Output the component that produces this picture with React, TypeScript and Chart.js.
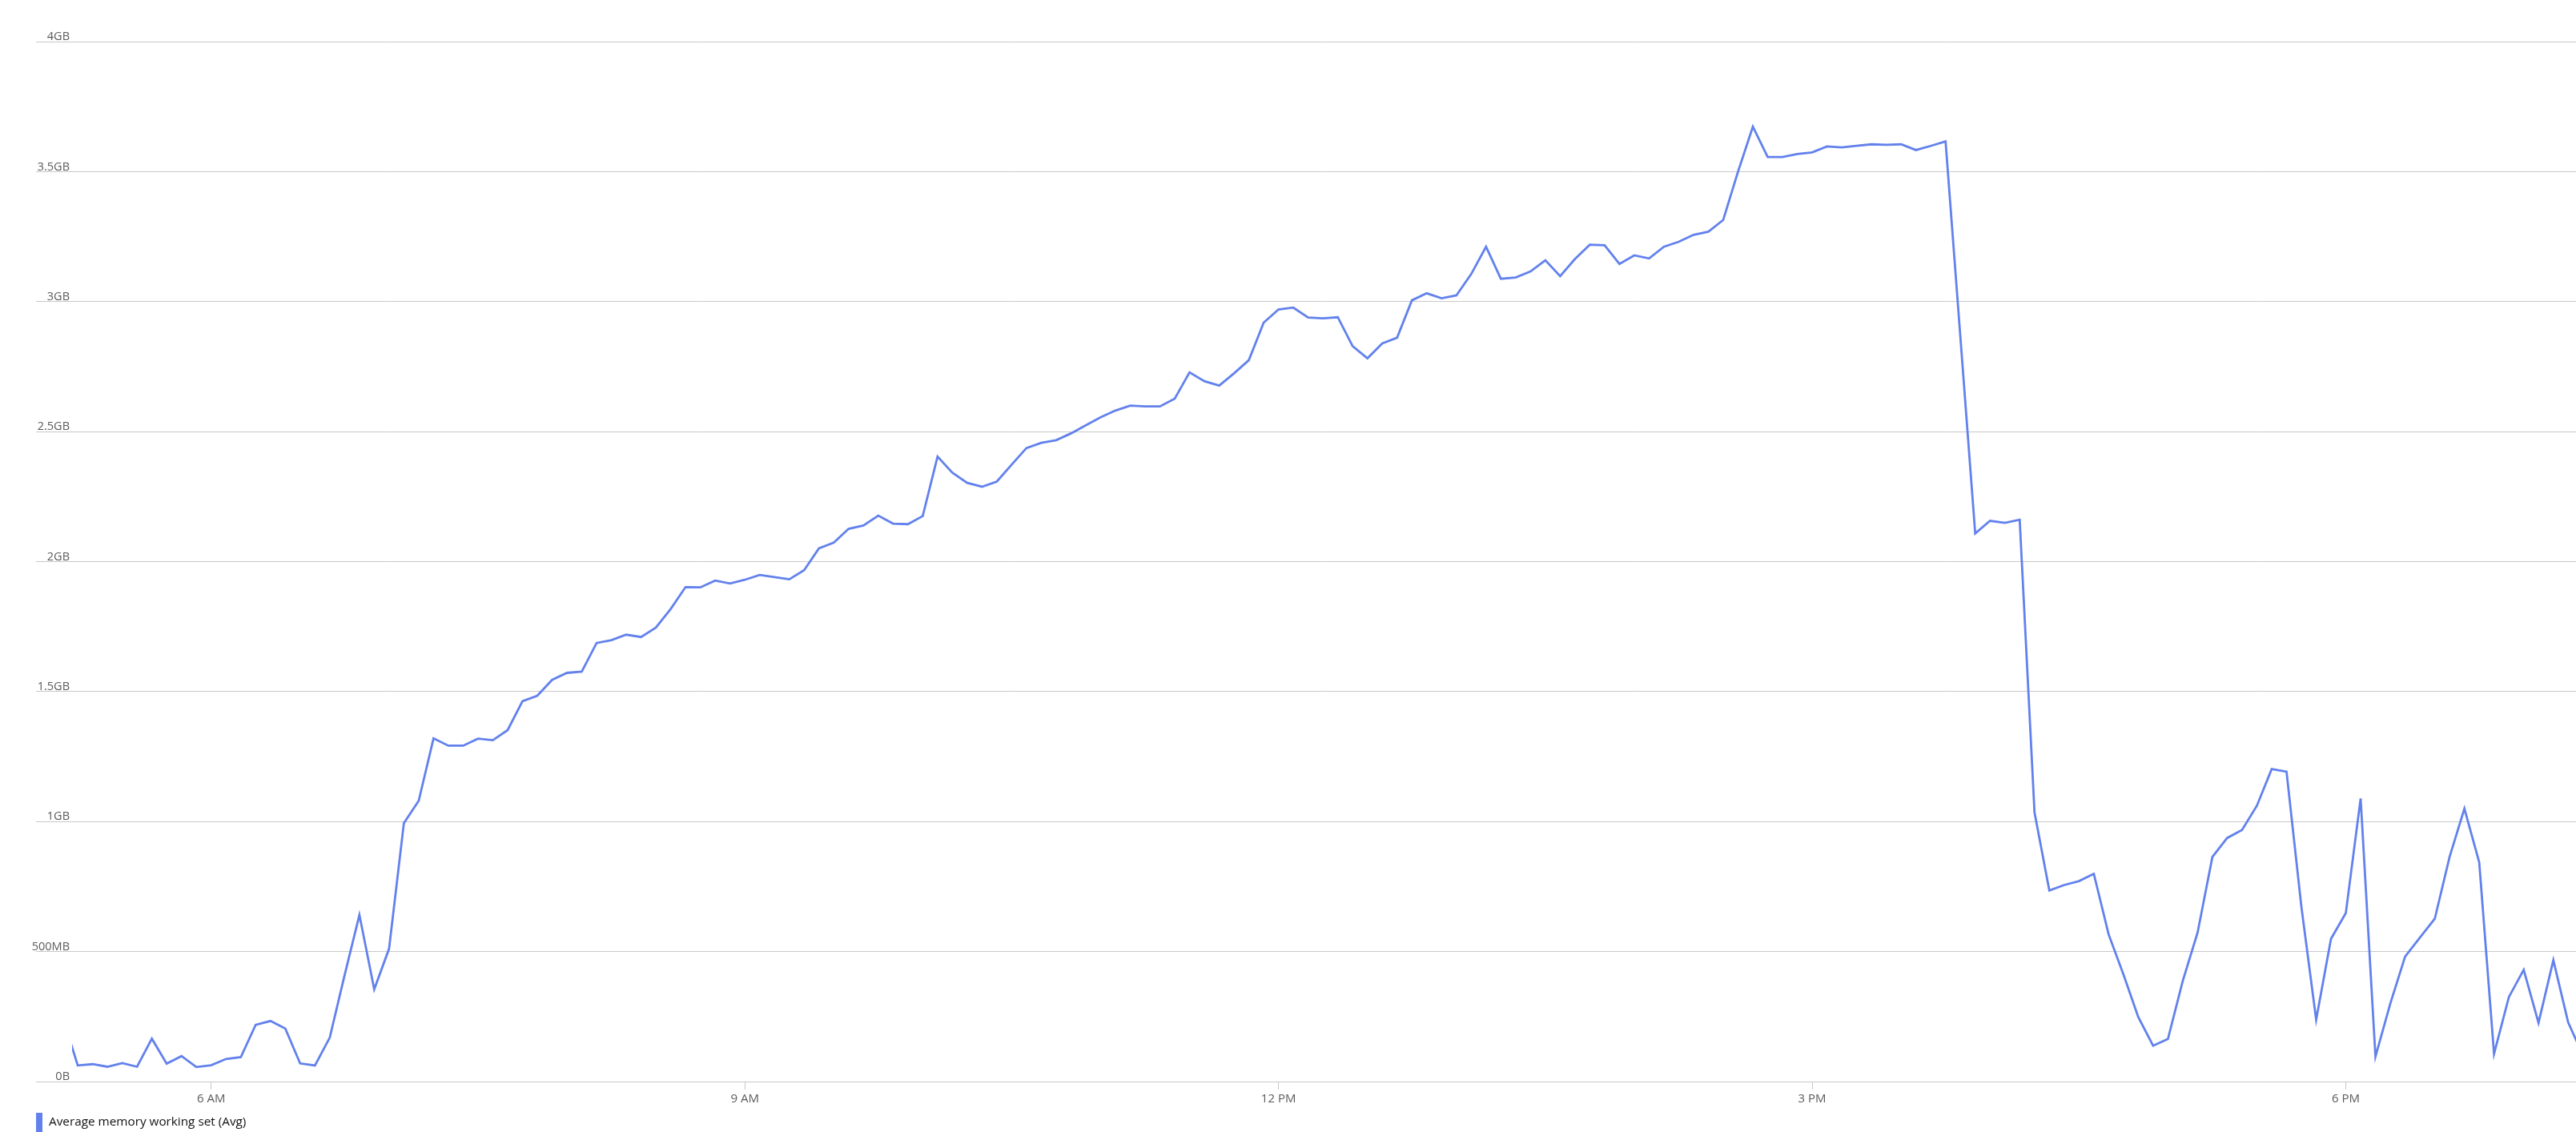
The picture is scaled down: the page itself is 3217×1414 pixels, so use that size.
import React, { useEffect, useRef } from "react";
import { Chart, registerables } from "chart.js";

Chart.register(...registerables);

// ---- data ----
const SERIES_LABEL = "Average memory working set (Avg)";
const START_TIME = "05:10"; // first sample (partly clipped at the left edge)
const STEP_MINUTES = 5;

// Average memory working set, in GB, one sample every 5 minutes from 05:10
const MEMORY_GB = [
  0.245, 0.062, 0.067, 0.057, 0.071, 0.057, 0.165, 0.069, 0.098, 0.056,
  0.063, 0.087, 0.094, 0.218, 0.233, 0.204, 0.070, 0.062, 0.169, 0.409,
  0.641, 0.355, 0.511, 0.994, 1.080, 1.320, 1.292, 1.292, 1.319, 1.313,
  1.352, 1.463, 1.484, 1.545, 1.572, 1.577, 1.687, 1.698, 1.719, 1.710,
  1.746, 1.818, 1.902, 1.901, 1.927, 1.916, 1.930, 1.949, 1.940, 1.932,
  1.967, 2.051, 2.073, 2.126, 2.139, 2.177, 2.146, 2.144, 2.175, 2.404,
  2.342, 2.303, 2.288, 2.308, 2.373, 2.437, 2.457, 2.467, 2.493, 2.524,
  2.555, 2.581, 2.600, 2.597, 2.597, 2.627, 2.728, 2.694, 2.677, 2.724,
  2.775, 2.919, 2.970, 2.977, 2.939, 2.936, 2.940, 2.829, 2.782, 2.839,
  2.861, 3.005, 3.032, 3.013, 3.024, 3.106, 3.211, 3.088, 3.093, 3.116,
  3.159, 3.098, 3.164, 3.219, 3.217, 3.145, 3.178, 3.166, 3.211, 3.230,
  3.257, 3.269, 3.314, 3.500, 3.673, 3.556, 3.556, 3.568, 3.574, 3.597,
  3.593, 3.599, 3.605, 3.603, 3.605, 3.583, 3.599, 3.616, 2.863, 2.108,
  2.157, 2.149, 2.161, 1.035, 0.735, 0.756, 0.771, 0.799, 0.566, 0.412,
  0.248, 0.138, 0.164, 0.387, 0.573, 0.864, 0.937, 0.968, 1.061, 1.202,
  1.192, 0.674, 0.238, 0.549, 0.648, 1.089, 0.096, 0.300, 0.481, 0.554,
  0.626, 0.864, 1.050, 0.843, 0.107, 0.325, 0.430, 0.226, 0.467, 0.228,
  0.100,
];

const X_TICK_HOURS = [6, 9, 12, 15, 18];
const X_TICK_LABELS = ["6 AM", "9 AM", "12 PM", "3 PM", "6 PM"];
const Y_TICK_VALUES = [0, 0.5, 1, 1.5, 2, 2.5, 3, 3.5, 4];
const Y_TICK_LABELS = ["0B", "500MB", "1GB", "1.5GB", "2GB", "2.5GB", "3GB", "3.5GB", "4GB"];

// visible time window, in hours of the day
const X_MIN_HOURS = 5.218;
const X_MAX_HOURS = 19.294;

// ---- styles ----
const WIDTH = 3217;
const HEIGHT = 1414;
const LINE_COLOR = "#6281ec";
const GRID_COLOR = "#c8c8c8";
const TEXT_COLOR = "#5a5a5a";
const FONT_FAMILY = "'Open Sans', 'Noto Sans', sans-serif";

function startHours(): number {
  const [h, m] = START_TIME.split(":").map(Number);
  return h + m / 60;
}

export default function App() {
  const canvasRef = useRef<HTMLCanvasElement | null>(null);

  useEffect(() => {
    const canvas = canvasRef.current;
    if (!canvas) return;
    const t0 = startHours();
    const points = MEMORY_GB.map((v, i) => ({ x: t0 + (i * STEP_MINUTES) / 60, y: v }));

    const chart = new Chart(canvas, {
      type: "line",
      data: {
        datasets: [
          {
            label: SERIES_LABEL,
            data: points,
            borderColor: LINE_COLOR,
            backgroundColor: LINE_COLOR,
            borderWidth: 2.8,
            pointRadius: 0,
            pointHoverRadius: 0,
            tension: 0,
            fill: false,
            clip: 0,
          },
        ],
      },
      options: {
        animation: false,
        responsive: false,
        devicePixelRatio: 1,
        events: [],
        layout: { padding: { top: 52, left: 0, right: 0, bottom: 0 } },
        plugins: {
          legend: { display: false },
          tooltip: { enabled: false },
          title: { display: false },
        },
        scales: {
          x: {
            type: "linear",
            min: X_MIN_HOURS,
            max: X_MAX_HOURS,
            afterBuildTicks: (axis: any) => {
              axis.ticks = X_TICK_HOURS.map((v) => ({ value: v }));
            },
            afterFit: (axis: any) => {
              axis.height = 63;
            },
            grid: {
              drawOnChartArea: false,
              drawTicks: true,
              tickLength: 10,
              color: GRID_COLOR,
              lineWidth: 1,
            },
            border: { display: true, color: GRID_COLOR, width: 1 },
            ticks: {
              autoSkip: false,
              maxRotation: 0,
              minRotation: 0,
              padding: 3,
              color: TEXT_COLOR,
              font: { family: FONT_FAMILY, size: 15 },
              callback: (value: any) => {
                const i = X_TICK_HOURS.indexOf(Number(value));
                return i >= 0 ? X_TICK_LABELS[i] : "";
              },
            },
          },
          y: {
            type: "linear",
            min: 0,
            max: 4,
            afterBuildTicks: (axis: any) => {
              axis.ticks = Y_TICK_VALUES.map((v) => ({ value: v }));
            },
            afterFit: (axis: any) => {
              axis.width = 90;
            },
            grid: {
              color: GRID_COLOR,
              lineWidth: 1,
              drawTicks: true,
              tickLength: 45,
            },
            border: { display: false },
            ticks: {
              padding: -42,
              labelOffset: -6,
              color: TEXT_COLOR,
              font: { family: FONT_FAMILY, size: 14.5 },
              callback: (value: any) => {
                const i = Y_TICK_VALUES.indexOf(Number(value));
                return i >= 0 ? Y_TICK_LABELS[i] : "";
              },
            },
          },
        },
      },
    } as any);

    return () => {
      chart.destroy();
    };
  }, []);

  return (
    <div
      style={{
        position: "fixed",
        left: 0,
        top: 0,
        width: WIDTH,
        height: HEIGHT,
        background: "#ffffff",
        overflow: "hidden",
      }}
    >
      <canvas
        ref={canvasRef}
        width={WIDTH}
        height={HEIGHT}
        style={{ position: "absolute", left: 0, top: 0, width: WIDTH, height: HEIGHT }}
      />
      <div
        style={{
          position: "absolute",
          left: 45,
          top: 1390,
          height: 40,
          borderLeft: `8px solid ${LINE_COLOR}`,
          paddingLeft: 8,
          paddingTop: 0,
          fontFamily: FONT_FAMILY,
          fontSize: 15.3,
          lineHeight: "21px",
          color: "#111111",
          whiteSpace: "nowrap",
        }}
      >
        {SERIES_LABEL}
      </div>
    </div>
  );
}
